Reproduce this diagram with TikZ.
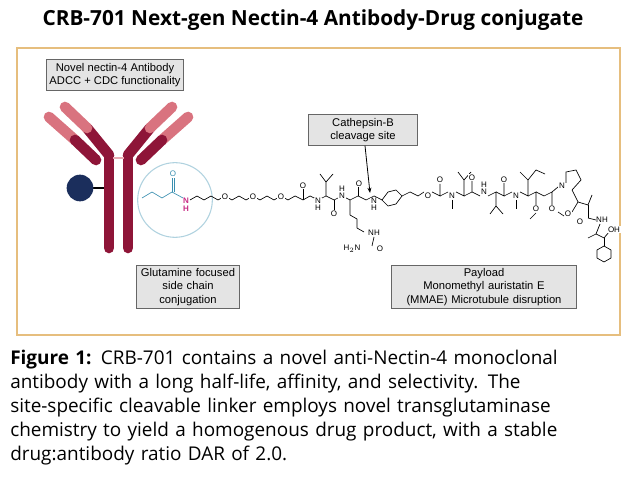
\documentclass[tikz,border=0pt]{standalone}
\usepackage{fontspec}
\setmainfont{Liberation Sans}
\newfontfamily\titlefont{Open Sans}
\usetikzlibrary{arrows.meta}
\definecolor{maroon}{HTML}{8E1538}
\definecolor{pinkc}{HTML}{D9737F}
\definecolor{frame}{HTML}{E6BE7E}
\definecolor{boxg}{HTML}{E4E4E4}
\definecolor{navy}{HTML}{1B2E5C}
\definecolor{teal}{HTML}{3A8FB0}
\tikzset{
 lbl/.style={draw=gray!80!black,fill=boxg,line width=0.8pt,align=center,font=\fontsize{8.4}{10}\selectfont,inner sep=2.5pt},
 atom/.style={font=\fontsize{6}{6}\selectfont,inner sep=0.5pt,fill=white},
 bond/.style={line width=0.5pt},
 heavy/.style={line width=8pt,maroon,line cap=round},
 light/.style={line width=8pt,line cap=round},
}
\begin{document}
\begin{tikzpicture}[x=0.75pt,y=-0.75pt]
\useasboundingbox (0,0) rectangle (632,484);
\node[font=\titlefont\bfseries\fontsize{15.6}{18}\selectfont] (title) at (313,20) {CRB-701 Next-gen Nectin-4 Antibody-Drug conjugate};
\draw[frame,line width=1pt] (17,48) rectangle (620,335);
% antibody
\draw[heavy] (109,155) -- (109,248);
\draw[heavy] (128,155) -- (128,248);
\draw[heavy] (109,155) -- (87,128);
\draw[heavy] (128,155) -- (150,128);
\draw[light,pinkc] (87,128) -- (65,107);
\draw[light,pinkc] (150,128) -- (172,107);
\draw[light,pinkc] (49,117) -- (75,140);
\draw[light,maroon] (75,140) -- (96,160);
\draw[light,pinkc] (188,117) -- (162,140);
\draw[light,maroon] (162,140) -- (141,160);
\draw[pinkc!60,line width=1pt] (113,158) -- (124,158);
\draw[line width=1.5pt] (80,188) -- (104,188);
\node[circle,fill=navy,minimum size=20pt,inner sep=0] (ball) at (80,188) {};
\node[circle,draw=teal!40,line width=0.8pt,minimum size=56pt,inner sep=0] (circ) at (175,200) {};
% glutamine side chain
\draw[teal,bond] (142,198) -- (152,192) -- (162,198) -- (172,192) -- (183,198);
\draw[teal,bond] (172,192) -- (172,178); \draw[teal,bond] (174,192) -- (174,178);
\node[atom,text=teal,fill=none] (o0) at (173,174) {O};
\node[atom,text=magenta!80!black,fill=none,font=\bfseries\fontsize{6}{6}\selectfont] (n0) at (186,201) {N};
\node[atom,text=magenta!80!black,fill=none,font=\bfseries\fontsize{6}{6}\selectfont] (h0) at (186,209) {H};
% linker + payload backbone
\draw[bond] (190,200) -- (197,196) -- (204,200) -- (211,196) -- (218,200) -- (225,196) -- (232,200) -- (239,196) -- (246,200) -- (253,196) -- (260,200) -- (267,196) -- (274,200) -- (281,196) -- (288,200) -- (295,196) -- (303,200) -- (310,196) -- (318,200) -- (326,196) -- (334,200) -- (342,196) -- (350,200) -- (358,196) -- (366,200) -- (374,196) -- (382,200);
\foreach \x in {225,253,281} \node[atom] at (\x,197) {O};
\draw[bond] (303,200) -- (303,188); \node[atom] at (303,186) {O};
\node[atom] at (318,201) {N}; \node[atom] at (318,208) {H};
\draw[bond] (326,196) -- (326,182) -- (320,174); \draw[bond] (326,182) -- (333,174);
\draw[bond] (334,200) -- (334,212); \node[atom] at (334,214) {O};
\node[atom] at (342,196) {N}; \node[atom] at (342,189) {H};
\draw[bond] (350,200) -- (350,215) -- (357,219) -- (357,228) -- (364,232);
\node[atom] at (374,233) {NH};
\draw[bond] (374,237) -- (372,246); \node[atom] at (380,249) {O}; \node[atom] at (352,249) {H$_2$N};
\draw[bond] (358,196) -- (358,186); \node[atom] at (359,184) {O};
\node[atom] at (374,201) {N}; \node[atom] at (374,208) {H};
% benzene partial and rest
\draw[bond] (382,200) -- (388,192) -- (396,190) -- (402,196) -- (396,204) -- (388,206) -- cycle;
\draw[bond] (402,196) -- (410,192) -- (418,196) -- (424,192);
\node[atom] at (428,196) {O};
\draw[bond] (432,192) -- (440,196) -- (440,184); \node[atom] at (440,180) {O};
\draw[bond] (440,196) -- (448,192);
\node[atom] at (452,196) {N}; \draw[bond] (452,200) -- (452,209);
\draw[bond] (456,192) -- (464,196) -- (464,180) -- (458,172); \draw[bond] (464,180) -- (471,172);
\draw[bond] (464,196) -- (472,192) -- (472,180); \node[atom] at (472,178) {O};
\draw[bond] (472,192) -- (480,196) ;
\node[atom] at (484,192) {N}; \node[atom] at (484,185) {H};
\draw[bond] (488,196) -- (496,192) -- (496,206) -- (490,214); \draw[bond] (496,206) -- (503,214);
\draw[bond] (496,192) -- (504,196) -- (504,182); \node[atom] at (504,180) {O};
\draw[bond] (504,196) -- (512,192);
\node[atom] at (516,196) {N}; \draw[bond] (516,200) -- (516,209);
\draw[bond] (520,192) -- (528,196) -- (528,180) -- (536,170) -- (545,174); \draw[bond] (528,180) -- (520,172);
\draw[bond] (528,196) -- (536,192) -- (536,206); \node[atom] at (536,209) {O}; \draw[bond] (536,213) -- (530,219);
\draw[bond] (536,192) -- (544,196) -- (552,192) -- (552,206); \node[atom] at (552,209) {O};
\draw[bond] (552,192) -- (558,187);
\node[atom] at (562,186) {N};
\draw[bond] (566,183) -- (566,172) -- (576,170) -- (581,180) -- (572,190);
\draw[bond] (572,190) -- (578,202) -- (572,212); \node[atom] at (568,214) {O}; \draw[bond] (564,216) -- (558,212);
\draw[bond] (578,202) -- (588,205) -- (592,195); \draw[bond] (588,205) -- (588,218);
\node[atom] at (580,222) {O}; \draw[bond] (588,218) -- (596,220);
\node[atom] at (602,220) {NH};
\draw[bond] (600,224) -- (596,234) -- (588,238); \draw[bond] (596,234) -- (604,238) -- (609,232); \node[atom] at (614,230) {OH};
\draw[bond] (604,238) -- (604,246);
\draw[bond] (604,246) -- (611,250) -- (611,258) -- (604,262) -- (597,258) -- (597,250) -- cycle;
% labels
\node[lbl,minimum width=100pt] (ab) at (115,75) {Novel nectin-4 Antibody\\ADCC + CDC functionality};
\node[lbl,minimum width=82pt] (cat) at (363,130) {Cathepsin-B\\cleavage site};
\draw[-{Stealth[length=4pt]},line width=0.6pt] (cat.south) ++(2,0) coordinate (cs) (cs) -- (370,193);
\node[lbl,text width=72pt] (glu) at (188,287) {Glutamine focused\\side chain\\conjugation};
\node[lbl,text width=134pt] (pay) at (484,287) {Payload\\Monomethyl auristatin E\\(MMAE) Microtubule disruption};
% caption
\node[anchor=north west,align=left,text width=465pt,font=\titlefont\fontsize{14.2}{18}\selectfont,inner sep=0] (cap) at (10,350) {\textbf{Figure 1:} CRB-701 contains a novel anti-Nectin-4 monoclonal\\antibody with a long half-life, affinity, and selectivity. The\\site-specific cleavable linker employs novel transglutaminase\\chemistry to yield a homogenous drug product, with a stable\\drug:antibody ratio DAR of 2.0.};
\end{tikzpicture}
\end{document}
